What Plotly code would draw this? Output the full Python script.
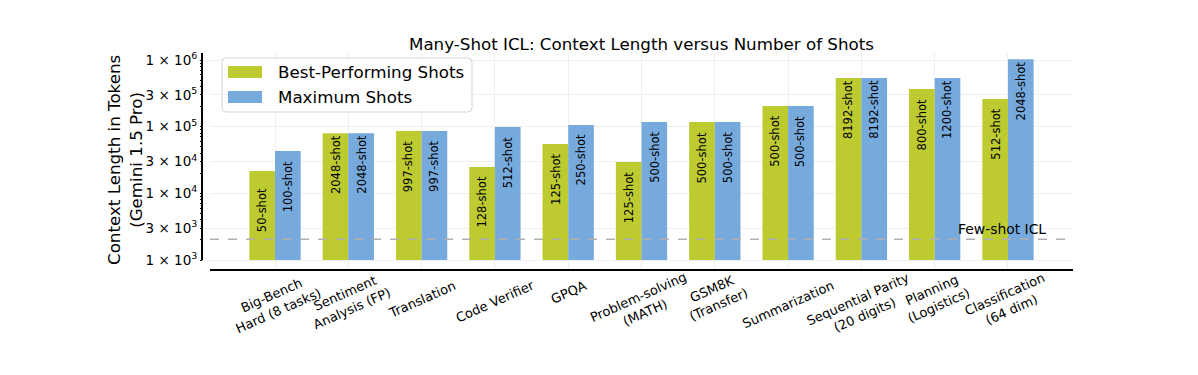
import math
import plotly.graph_objects as go

# ---------------- data ----------------
categories = ["Big-Bench<br>Hard (8 tasks)", "Sentiment<br>Analysis (FP)", "Translation",
              "Code Verifier", "GPQA", "Problem-solving<br>(MATH)", "GSM8K<br>(Transfer)",
              "Summarization", "Sequential Parity<br>(20 digits)", "Planning<br>(Logistics)",
              "Classification<br>(64 dim)"]
best_tokens = [21600, 80000, 86000, 24800, 54800, 29400, 117000, 204000, 536000, 366000, 259000]
max_tokens = [43000, 80000, 86000, 98600, 106000, 117000, 117000, 204000, 536000, 536000, 1030000]
best_shots = [50, 2048, 997, 128, 125, 125, 500, 500, 8192, 800, 512]
max_shots = [100, 2048, 997, 512, 250, 500, 500, 500, 8192, 1200, 2048]
few_shot_tokens = 2050
bar_base = 1000
y_tickvals = [1e3, 3e3, 1e4, 3e4, 1e5, 3e5, 1e6]
y_ticktext = ["1 × 10<sup>3</sup>", "3 × 10<sup>3</sup>", "1 × 10<sup>4</sup>", "3 × 10<sup>4</sup>",
              "1 × 10<sup>5</sup>", "3 × 10<sup>5</sup>", "1 × 10<sup>6</sup>"]

GREEN = "#bdcb31"
BLUE = "#76a9dc"
FONT = "DejaVu Sans"

W, H = 1198, 375
ML, MR, MT, MB = 190, 125, 53, 106
PW = W - ML - MR
PH = H - MT - MB
x_dom0 = 20 / PW
spine_pos = 12 / PW
y_top = 6.105

fig = go.Figure()
fig.add_trace(go.Bar(x=categories, y=[v - bar_base for v in best_tokens], base=bar_base,
                     marker=dict(color=GREEN, line=dict(width=0)), name="Best-Performing Shots"))
fig.add_trace(go.Bar(x=categories, y=[v - bar_base for v in max_tokens], base=bar_base,
                     marker=dict(color=BLUE, line=dict(width=0)), name="Maximum Shots"))

annotations = []
# bar labels
for i, (bt, bs, mt, ms) in enumerate(zip(best_tokens, best_shots, max_tokens, max_shots)):
    for off, tok, shot in ((-0.175, bt, bs), (0.175, mt, ms)):
        annotations.append(dict(x=i + off, y=math.log10(tok / 8.2), xref="x", yref="y",
                                text=f"{shot}-shot", showarrow=False, textangle=-90,
                                xanchor="center", yanchor="bottom", yshift=-2,
                                font=dict(family=FONT, size=11.5, color="black")))
# x tick labels
for i, c in enumerate(categories):
    two_line = "<br>" in c
    annotations.append(dict(x=i, y=-6 / PH, xref="x", yref="paper", text=c, showarrow=False,
                            textangle=-24, xanchor="center", yanchor="top", align="center",
                            yshift=8 if two_line else 0,
                            font=dict(family=FONT, size=13, color="black")))
# few-shot label
annotations.append(dict(x=0.971, y=math.log10(few_shot_tokens), xref="x domain", yref="y",
                        text="Few-shot ICL", showarrow=False, xanchor="right", yanchor="bottom",
                        font=dict(family=FONT, size=13.9, color="black")))
# y label
annotations.append(dict(x=(125 - ML) / PW, y=(H - MB - 160) / PH, xref="paper", yref="paper",
                        text="Context Length in Tokens<br>(Gemini 1.5 Pro)", showarrow=False,
                        textangle=-90, xanchor="center", yanchor="middle", align="center",
                        font=dict(family=FONT, size=16.7, color="black")))
# legend (manual)
def px(x):
    return (x - ML) / PW
def py(y):
    return (H - MB - y) / PH

legend_items = [("Best-Performing Shots", GREEN, 72), ("Maximum Shots", BLUE, 97)]
for label, col, yc in legend_items:
    annotations.append(dict(x=px(276), y=py(yc), xref="paper", yref="paper", text=label,
                            showarrow=False, xanchor="left", yanchor="middle",
                            font=dict(family=FONT, size=16.7, color="black")))

shapes = []
# legend frame with rounded corners
x0, x1, y0, y1, r = 222, 472, 58, 112, 4
path = (f"M {px(x0 + r)},{py(y0)} L {px(x1 - r)},{py(y0)} Q {px(x1)},{py(y0)} {px(x1)},{py(y0 + r)} "
        f"L {px(x1)},{py(y1 - r)} Q {px(x1)},{py(y1)} {px(x1 - r)},{py(y1)} "
        f"L {px(x0 + r)},{py(y1)} Q {px(x0)},{py(y1)} {px(x0)},{py(y1 - r)} "
        f"L {px(x0)},{py(y0 + r)} Q {px(x0)},{py(y0)} {px(x0 + r)},{py(y0)} Z")
shapes.append(dict(type="path", path=path, xref="paper", yref="paper",
                   line=dict(color="#d5d5d5", width=1), fillcolor="rgba(255,255,255,0.85)"))
for label, col, yc in legend_items:
    shapes.append(dict(type="rect", xref="paper", yref="paper", x0=px(228), x1=px(262),
                       y0=py(yc - 6), y1=py(yc + 6), fillcolor=col, line=dict(width=0)))
# few-shot dashed line
shapes.append(dict(type="line", xref="x domain", yref="y", x0=0, x1=1,
                   y0=few_shot_tokens, y1=few_shot_tokens,
                   line=dict(color="#b0b0b0", width=1.5, dash="dash")))
# offset left spine
shapes.append(dict(type="line", xref="paper", yref="y", x0=spine_pos, x1=spine_pos,
                   y0=bar_base, y1=10 ** y_top, line=dict(color="black", width=2)))

minor_vals = [m * 10 ** d for d in (3, 4, 5) for m in (2, 4, 5, 6, 7, 8, 9)]

fig.update_layout(
    width=W, height=H,
    margin=dict(l=ML, r=MR, t=MT, b=MB),
    paper_bgcolor="white", plot_bgcolor="white",
    barmode="group", bargap=0.3, bargroupgap=0,
    showlegend=False,
    font=dict(family=FONT, color="black"),
    title=dict(text="Many-Shot ICL: Context Length versus Number of Shots",
               x=641.5 / W, xref="container", xanchor="center",
               y=1 - 44 / H, yref="container", yanchor="middle",
               font=dict(family=FONT, size=16.7, color="black")),
    xaxis=dict(type="category", domain=[x_dom0, 1], range=[-0.887, 10.887],
               showticklabels=False, ticks="", showgrid=True, gridcolor="#efefef", gridwidth=1,
               showline=True, linecolor="black", linewidth=2, zeroline=False),
    yaxis=dict(type="log", range=[2.865, y_top], anchor="free", position=spine_pos,
               tickmode="array", tickvals=y_tickvals, ticktext=y_ticktext,
               ticks="outside", ticklen=2, tickcolor="black", tickwidth=1,
               tickfont=dict(family=FONT, size=13.5, color="black"),
               showgrid=True, gridcolor="#efefef", gridwidth=1, showline=False, zeroline=False,
               minor=dict(tickmode="array", tickvals=minor_vals, ticks="outside", ticklen=2,
                          tickcolor="black", showgrid=False)),
    annotations=annotations,
    shapes=shapes,
)

fig.write_html("out.html", config={"displayModeBar": False},
               post_script="document.body.style.margin='0';document.body.style.padding='0';")
